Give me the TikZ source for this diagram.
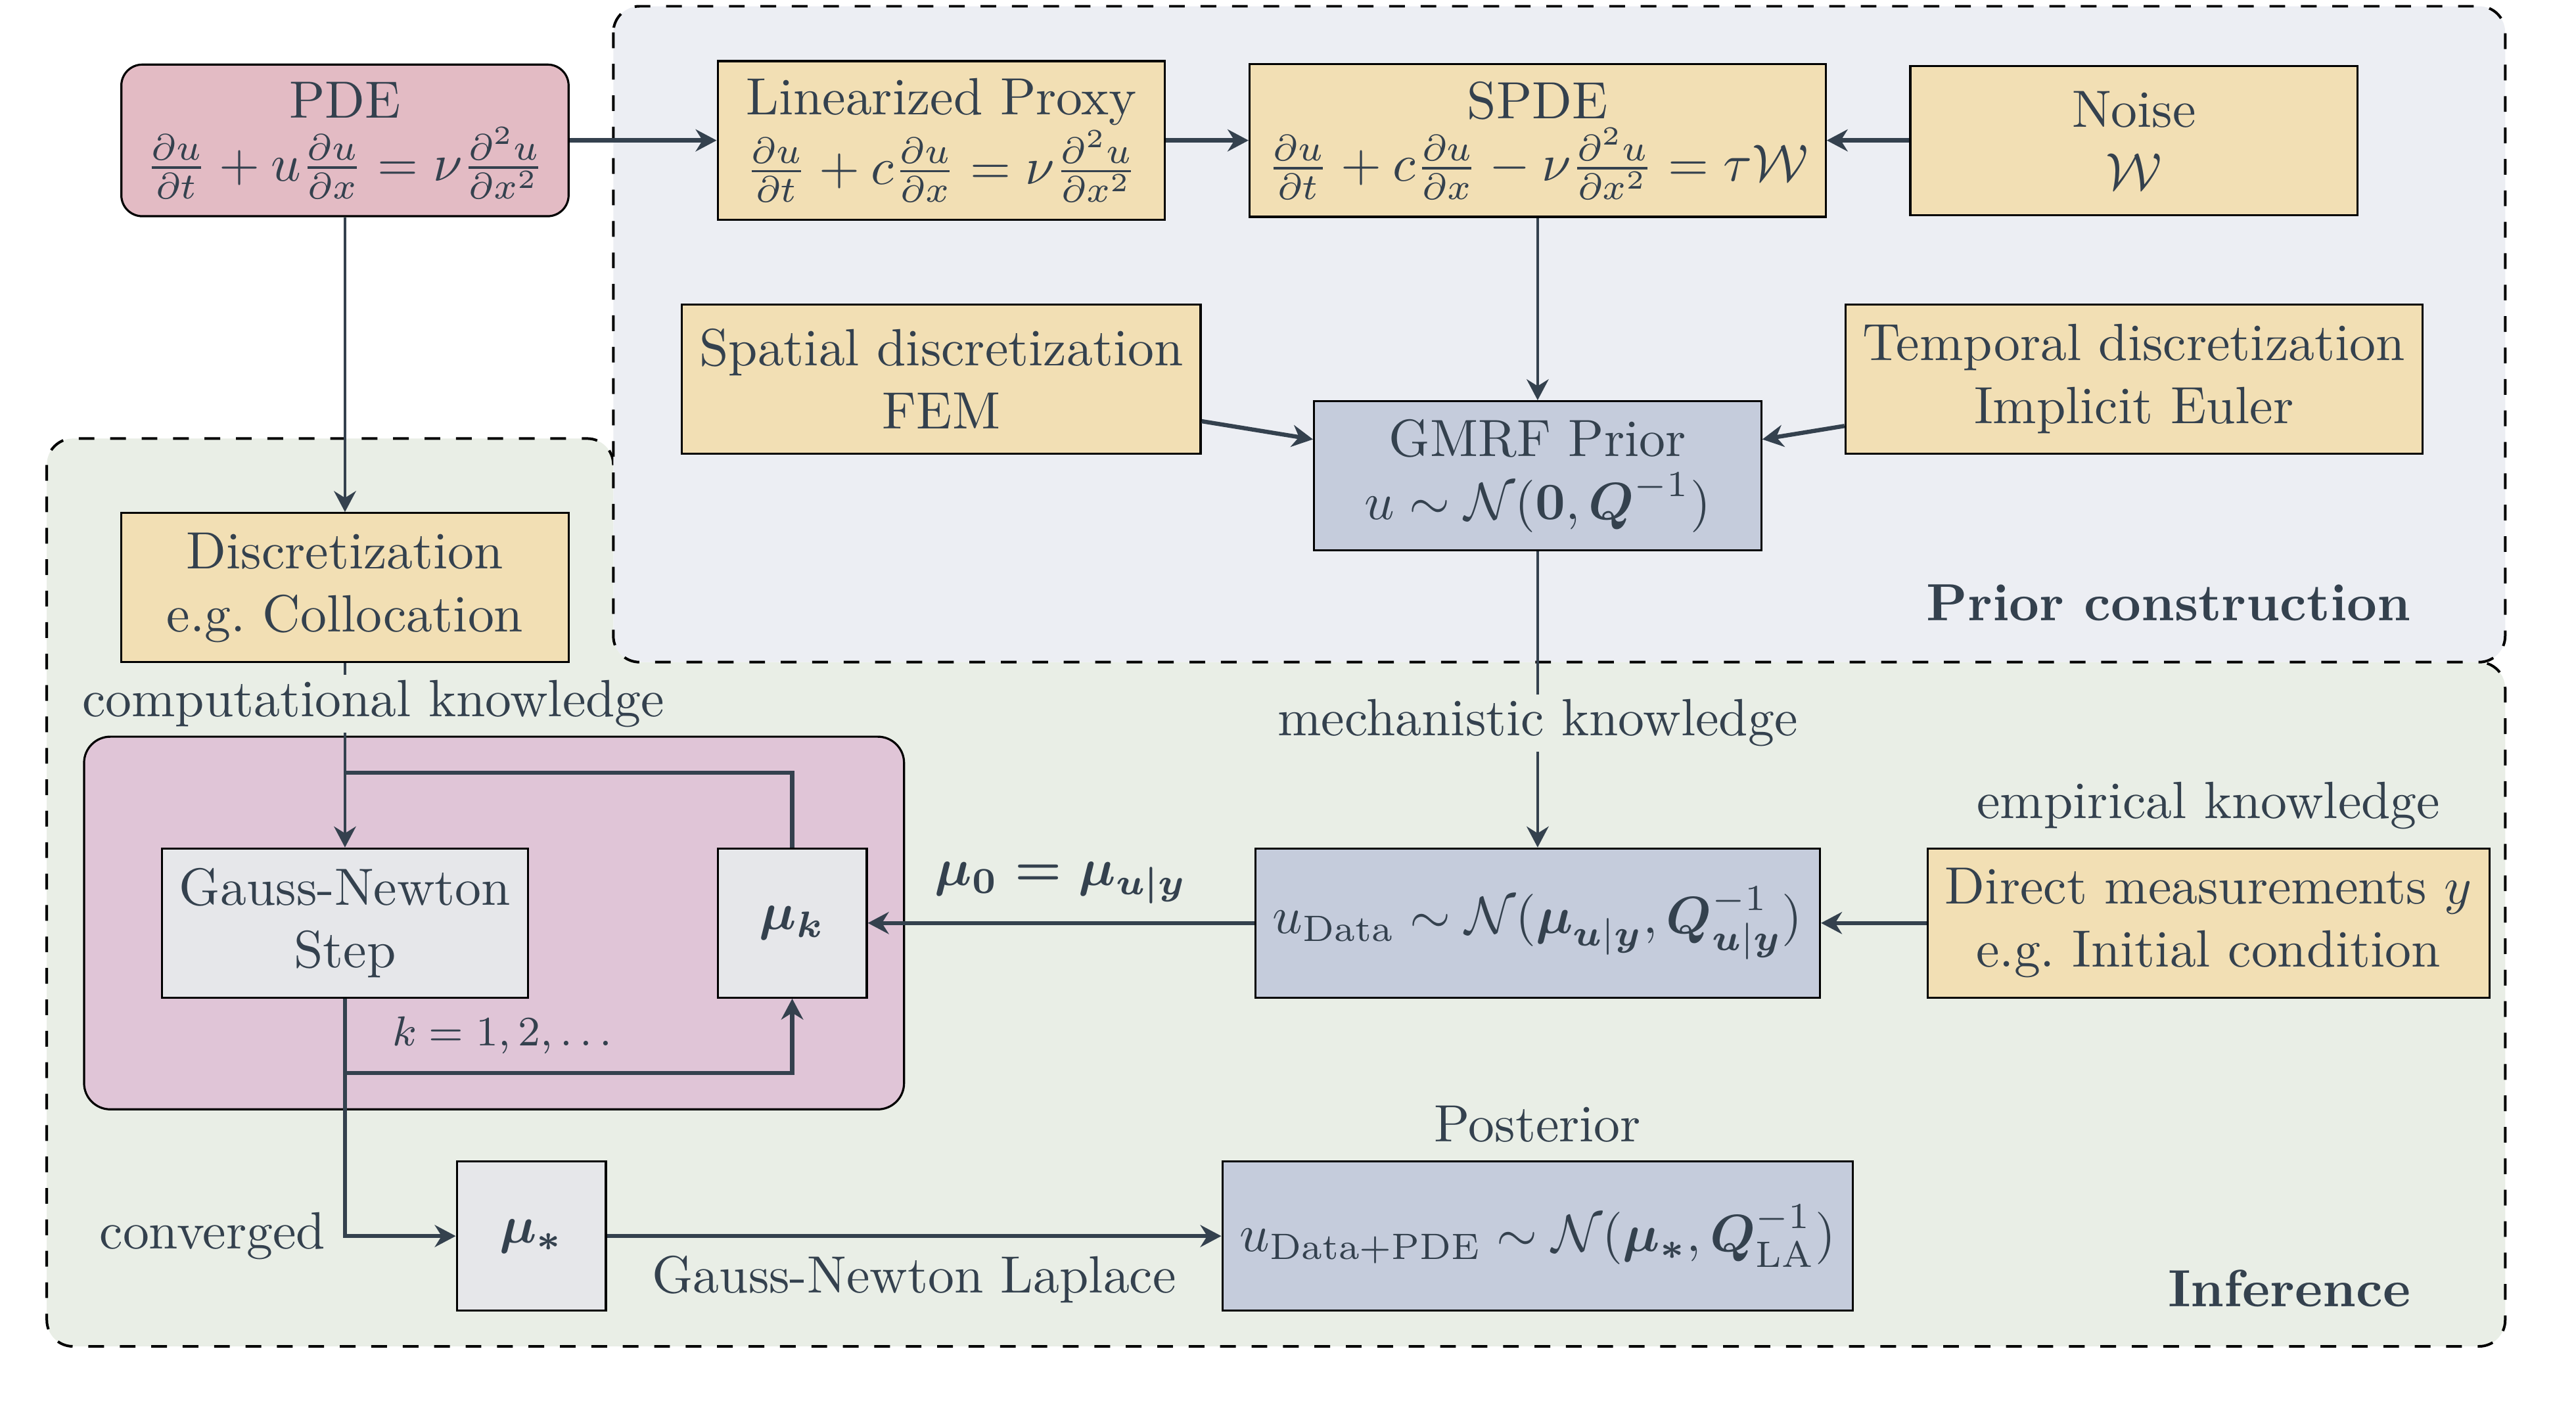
\documentclass[tikz,border=0pt]{standalone}
\usepackage{amsmath}
\usepackage{amssymb}
\usetikzlibrary{arrows.meta,positioning,calc}
\pgfdeclarelayer{background}
\pgfsetlayers{background,main}
\definecolor{ink}{HTML}{34414E}
\definecolor{sandfill}{HTML}{F2DFB4}
\definecolor{slatefill}{HTML}{C5CCDC}
\definecolor{rosefill}{HTML}{E3BBC4}
\definecolor{lilacfill}{HTML}{E0C5D7}
\definecolor{mistfill}{HTML}{E6E7EA}
\definecolor{priorbg}{HTML}{ECEEF3}
\definecolor{inferbg}{HTML}{E9EEE6}

\begin{document}
\begin{tikzpicture}[node distance=4cm,on grid,color=ink,
    >={Stealth[length=4pt,width=4.2pt,inset=1.3pt]},
    block/.style={draw=black,minimum width=3cm,minimum height=1cm,align=center},
    yellowbox/.style={block,fill=sandfill},
    bluebox/.style={block,fill=slatefill},
    pdebox/.style={block,fill=rosefill,rounded corners=4pt},
    greybox/.style={draw=black,fill=mistfill,minimum height=1cm,align=center},
    mubox/.style={draw=black,fill=mistfill,minimum size=1cm},
    flow/.style={thick,->},
    link/.style={semithick,->},
    region/.style={dashed,line width=0.5pt,rounded corners=5pt},
    tag/.style={fill=inferbg,inner sep=1pt}]
   \useasboundingbox (-2.314,0.942) rectangle (14.965,-8.557);

   \node[pdebox] (PDE) {PDE\\$\frac{\partial u}{\partial t}+u\frac{\partial u}{\partial x}=\nu\frac{\partial^2 u}{\partial x^2}$};
   \node[yellowbox] (LP) [right=of PDE] {Linearized Proxy\\$\frac{\partial u}{\partial t}+c\frac{\partial u}{\partial x}=\nu\frac{\partial^2 u}{\partial x^2}$};
   \node[yellowbox] (SPDE) [right=of LP] {SPDE\\$\frac{\partial u}{\partial t}+c\frac{\partial u}{\partial x}-\nu\frac{\partial^2 u}{\partial x^2}=\tau\mathcal{W}$};
   \node[yellowbox] (NS) [right=of SPDE] {Noise\\$\mathcal{W}$};
   \node[yellowbox] (SD) [below=1.6cm of LP] {Spatial discretization\\FEM};
   \node[yellowbox] (TD) [below=1.6cm of NS] {Temporal discretization\\Implicit Euler};
   \node[bluebox] (GP) [below=2.25cm of SPDE] {GMRF Prior\\$u\sim\mathcal{N}(\boldsymbol{0},\boldsymbol{Q}^{-1})$};
   \node[yellowbox] (DC) [below=3cm of PDE] {Discretization\\e.g.\ Collocation};
   \node[greybox] (GN) [below=2.25cm of DC] {Gauss-Newton\\Step};
   \node[mubox] (MK) [right=3cm of GN] {$\boldsymbol{\mu_k}$};
   \node[bluebox] (UD) [below=3cm of GP] {$u_{\text{Data}}\sim\mathcal{N}(\boldsymbol{\mu}_{\boldsymbol{u}|\boldsymbol{y}},\boldsymbol{Q}^{-1}_{\boldsymbol{u}|\boldsymbol{y}})$};
   \node[yellowbox] (DM) [right=4.5cm of UD,label=above:empirical knowledge] {Direct measurements $y$\\e.g.\ Initial condition};
   \node[mubox] (MS) [below right=2.1cm and 1.25cm of GN] {$\boldsymbol{\mu_*}$};
   \node[bluebox] (PO) [below=2.1cm of UD,label=above:Posterior] {$u_{\text{Data+PDE}}\sim\mathcal{N}(\boldsymbol{\mu_*},\boldsymbol{Q}^{-1}_{\text{LA}})$};

   \node[anchor=east,font=\bfseries] (PC) at (13.98,-3.10) {Prior construction};
   \node[anchor=east,font=\bfseries] (IF) at (13.98,-7.70) {Inference};

   \path[flow]
    (PDE) edge (LP)
    (LP) edge (SPDE)
    (NS) edge (SPDE)
    (SD) edge (GP)
    (TD) edge (GP)
    (DM) edge (UD);
   \draw[link] (SPDE) -- (GP);
   \draw[link] (GP) -- node[tag,pos=0.58] {mechanistic knowledge} (UD);
   \draw[flow] (UD) -- node[above] {$\boldsymbol{\mu_0=\mu_{u|y}}$} (MK);
   \draw[link] (PDE) -- (DC);
   \draw[link] (DC) -- node[tag,pos=0.22,xshift=0.19cm] {computational knowledge} (GN);

   % Gauss-Newton loop
   \draw[thick] (MK.north) |- ([yshift=5mm]GN.north);
   \draw[flow] (GN.south) |- node[above,pos=0.68,font=\footnotesize] {$k=1,2,\dots$} ([yshift=-5mm]MK.south) -- (MK.south);
   \draw[flow] (GN.south) |- node[left,pos=0.5] {converged} (MS);
   \draw[flow] (MS) -- node[below] {Gauss-Newton Laplace} (PO);

   \begin{pgfonlayer}{background}
    \fill[inferbg,rounded corners=5pt] (-2,-2) -- (1.8,-2) -- (1.8,-3.5) -- (14.49,-3.5) -- (14.49,-8.09) -- (-2,-8.09) -- cycle;
    \draw[region] (1.8,-2.18) -- (1.8,-2) -- (-2,-2) -- (-2,-8.09) -- (14.49,-8.09) -- (14.49,-3.5) -- (14.31,-3.5);
    \draw[region,fill=priorbg] (1.8,0.9) rectangle (14.49,-3.5);
    \draw[fill=lilacfill,rounded corners=5pt] (-1.75,-4) rectangle (3.75,-6.5);
   \end{pgfonlayer}
\end{tikzpicture}
\end{document}
